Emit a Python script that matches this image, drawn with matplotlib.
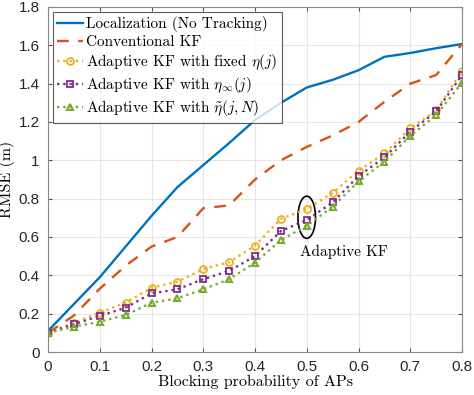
import numpy as np
import matplotlib
matplotlib.use('Agg')
import matplotlib.pyplot as plt
from matplotlib.patches import Ellipse

plt.rcParams['mathtext.fontset'] = 'cm'

# blocking probability of APs
p = [0, 0.05, 0.1, 0.15, 0.2, 0.25, 0.3, 0.35, 0.4, 0.45, 0.5,
     0.55, 0.6, 0.65, 0.7, 0.75, 0.8]

# RMSE values (m)
loc = [0.11, 0.25, 0.39, 0.55, 0.71, 0.86, 0.975, 1.09, 1.21, 1.30, 1.38,
       1.42, 1.47, 1.54, 1.56, 1.585, 1.607]
conv = [0.1, 0.19, 0.33, 0.45, 0.55, 0.60, 0.75, 0.765, 0.90, 1.0, 1.07,
        1.13, 1.20, 1.305, 1.40, 1.445, 1.607]
fixed = [0.1, 0.153, 0.205, 0.257, 0.335, 0.367, 0.433, 0.468, 0.555, 0.694, 0.746,
         0.83, 0.946, 1.036, 1.167, 1.26, 1.467]
eta_inf = [0.1, 0.145, 0.188, 0.231, 0.306, 0.327, 0.38, 0.423, 0.50, 0.631, 0.689,
           0.78, 0.918, 1.015, 1.15, 1.255, 1.445]
eta_n = [0.1, 0.132, 0.158, 0.193, 0.257, 0.28, 0.327, 0.38, 0.466, 0.584, 0.659,
         0.758, 0.89, 0.993, 1.127, 1.236, 1.405]

labels = ['Localization (No Tracking)', 'Conventional KF',
          r'Adaptive KF with fixed $\eta(j)$',
          r'Adaptive KF with $\eta_\infty(j)$',
          r'Adaptive KF with $\tilde{\eta}(j,N)$']

xtick_labels = ['0', '0.1', '0.2', '0.3', '0.4', '0.5', '0.6', '0.7', '0.8']
ytick_labels = ['0', '0.2', '0.4', '0.6', '0.8', '1', '1.2', '1.4', '1.6', '1.8']

blue = '#0072BD'
red = '#D95319'
yellow = '#EDB120'
purple = '#7E2F8E'
green = '#77AC30'

fig = plt.figure(figsize=(4.74, 3.95), dpi=100)
ax = fig.add_axes([48 / 474, 43 / 395, 414 / 474, 345 / 395])

ax.plot(p, loc, '-', color=blue, lw=1.7, label=labels[0])
ax.plot(p, conv, '--', color=red, lw=1.7, dashes=(5, 4), label=labels[1])
ax.plot(p, fixed, ':', color=yellow, lw=1.7, marker='o', ms=5, mfc='none',
        mew=1.3, label=labels[2])
ax.plot(p, eta_inf, ':', color=purple, lw=1.7, marker='s', ms=4, mfc='none',
        mew=1.3, label=labels[3])
ax.plot(p, eta_n, ':', color=green, lw=1.7, marker='^', ms=5, mfc='none',
        mew=1.5, label=labels[4])

ell = Ellipse((0.5, 0.703), 0.034, 0.22, fill=False, ec='black', lw=1.2)
ax.add_patch(ell)
ax.text(0.487, 0.52, 'Adaptive KF', family='cmr10', size=11,
        va='center', ha='left')

ax.set_xlim(0, 0.8)
ax.set_ylim(0, 1.8)
ax.set_xticks(np.arange(0, 0.81, 0.1))
ax.set_yticks(np.arange(0, 1.81, 0.2))
ax.set_xticklabels(xtick_labels)
ax.set_yticklabels(ytick_labels)
for t in ax.get_xticklabels() + ax.get_yticklabels():
    t.set_family('Liberation Sans')
    t.set_fontsize(11)
    t.set_color('#262626')

ax.grid(True, color='#e6e6e6', lw=0.8)
ax.set_axisbelow(True)
ax.tick_params(direction='in', length=3, color='#555555', top=True, right=True,
               pad=6)
for s in ax.spines.values():
    s.set_color('#888888')
    s.set_linewidth(0.8)

ax.set_xlabel('Blocking probability of APs', family='cmr10', size=11.5)
ax.xaxis.set_label_coords(0.5, -0.065)
ax.set_ylabel('RMSE (m)', family='cmr10', size=11.5)
ax.yaxis.set_label_coords(-0.08, 0.5)

leg = ax.legend(loc='upper left', prop=dict(family='cmr10', size=11),
                frameon=True, fancybox=False, edgecolor='#333333',
                handlelength=1.7, handletextpad=0.2, borderaxespad=0.3,
                labelspacing=0.2, borderpad=0.3)
leg.get_frame().set_linewidth(0.8)

fig.savefig('out.png', dpi=100)
